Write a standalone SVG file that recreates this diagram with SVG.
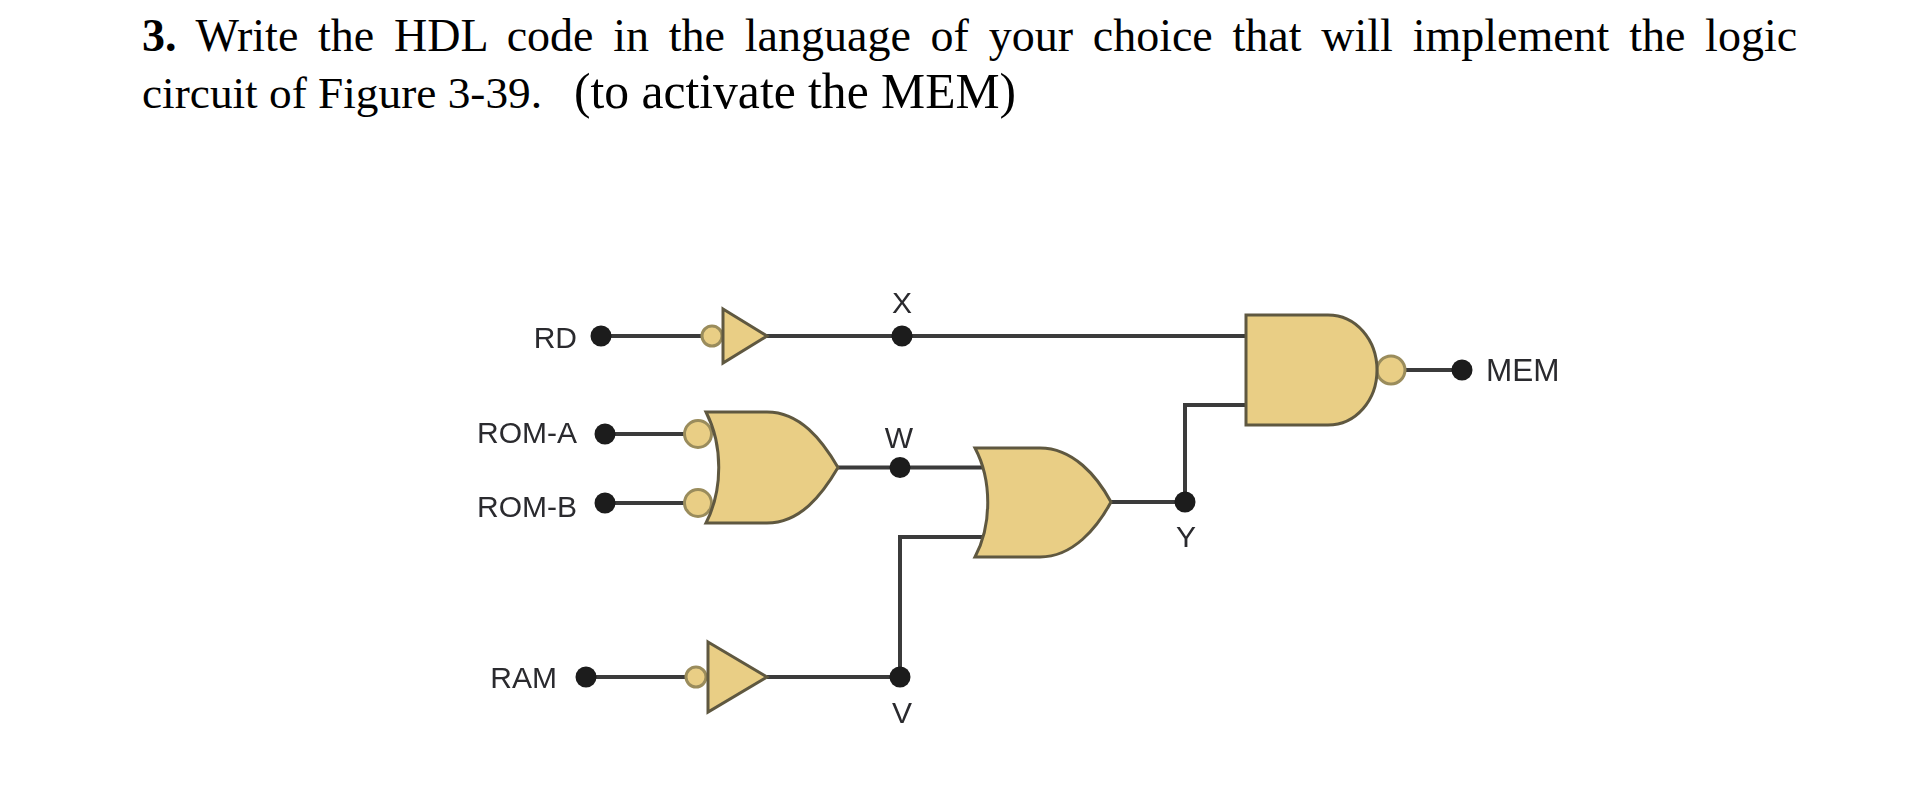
<svg xmlns="http://www.w3.org/2000/svg" width="1922" height="809" viewBox="0 0 1922 809">
<defs><filter id="soft" x="-5%" y="-5%" width="110%" height="110%"><feGaussianBlur stdDeviation="0.7"/></filter></defs>
<style>
.q{font-family:"Liberation Serif","Times New Roman",serif;font-size:46px;fill:#000}
.sm{font-size:45.3px}
.big{font-size:49.6px}
.b{font-weight:bold}
.l{font-family:"Liberation Sans",Arial,sans-serif;font-size:30px;fill:#2a2a2e}
.e{text-anchor:end}.m{text-anchor:middle}
.g{fill:#e9ce85;stroke:#5f5840;stroke-width:3}
.n{fill:#e9ce85;stroke:#9a8c5c;stroke-width:3}
.w{fill:none;stroke:#3a3a3a;stroke-width:4}
.d{fill:#1a1a1a}
</style>
<rect width="1922" height="809" fill="#fff"/>
<g id="question">
<text class="q" x="142" y="51" xml:space="preserve" word-spacing="8.27"><tspan class="b">3.</tspan> Write the HDL code in the language of your choice that will implement the logic</text>
<text class="q sm" x="142" y="108" xml:space="preserve">circuit of Figure 3-39.</text>
<text class="q big" x="574" y="108" xml:space="preserve">(to activate the MEM)</text>
</g>
<g filter="url(#soft)">
<g id="connectors">
<path class="w" d="M601 336H703"/>
<path class="w" d="M767 336H1246"/>
<path class="w" d="M605 434H686"/>
<path class="w" d="M605 503H686"/>
<path class="w" d="M838 467.500H984"/>
<path class="w" d="M586 677H687"/>
<path class="w" d="M767 677H900V537H984"/>
<path class="w" d="M1111 502H1185V405H1246"/>
<path class="w" d="M1403 370H1462"/>
</g>
<g id="RD"><circle class="d" cx="601" cy="336" r="10.500"/><text class="l e" x="577" y="348">RD</text></g>
<g id="ROM-A"><circle class="d" cx="605" cy="434" r="10.500"/><text class="l e" x="577" y="443">ROM-A</text></g>
<g id="ROM-B"><circle class="d" cx="605" cy="503" r="10.500"/><text class="l e" x="577" y="517">ROM-B</text></g>
<g id="RAM"><circle class="d" cx="586" cy="677" r="10.500"/><text class="l e" x="557" y="688">RAM</text></g>
<g id="not-rd"><circle class="n" cx="712" cy="336" r="10"/><path class="g" d="M723 309L767 336L723 363Z"/></g>
<g id="not-ram"><circle class="n" cx="696" cy="677" r="10"/><path class="g" d="M708 642L767 677L708 712Z"/></g>
<g id="or-w"><circle class="n" cx="698" cy="434" r="13.500"/><circle class="n" cx="698" cy="503" r="13.500"/><path class="g" d="M706 412H767C800 412 822 440 838 467.500C822 495 800 523 767 523H706C723 490 723 445 706 412Z"/></g>
<g id="or-y"><path class="g" d="M975 448H1040C1073 448 1097 476 1111 502C1097 528 1073 557 1040 557H975C992 525 992 480 975 448Z"/></g>
<g id="nand"><circle class="n" cx="1391" cy="370" r="14"/><path class="g" d="M1246 315H1328C1356 315 1377 340 1377 370C1377 400 1356 425 1328 425H1246Z"/></g>
<g id="X"><circle class="d" cx="902" cy="336" r="10.500"/><text class="l m" x="902" y="313">X</text></g>
<g id="W"><circle class="d" cx="900" cy="467.500" r="10.500"/><text class="l m" x="899" y="448">W</text></g>
<g id="Y"><circle class="d" cx="1185" cy="502" r="10.500"/><text class="l m" x="1186" y="547">Y</text></g>
<g id="V"><circle class="d" cx="900" cy="677" r="10.500"/><text class="l m" x="902" y="723">V</text></g>
<g id="MEM"><circle class="d" cx="1462" cy="370" r="10.500"/><text class="l" x="1486" y="381" style="font-size:31.500px">MEM</text></g>
</g>
</svg>
